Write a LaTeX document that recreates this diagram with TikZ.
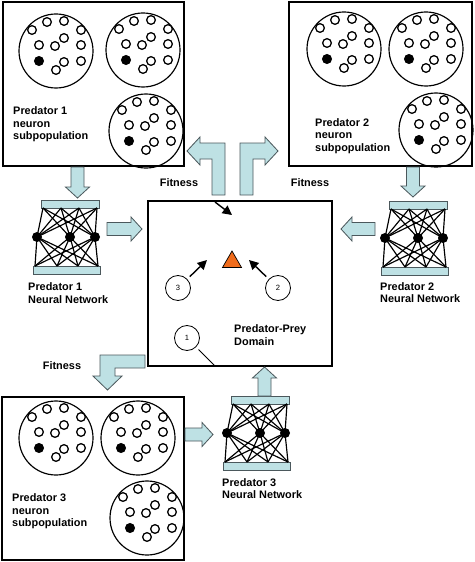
\documentclass[tikz,border=0pt]{standalone}
\usepackage{fontspec}
\setmainfont{Liberation Sans}
\usepackage{tikz}
\usetikzlibrary{shapes.geometric, arrows.meta, positioning, fit, calc}
\usepackage{xcolor}
\definecolor{fatblue}{RGB}{190,225,228}
\definecolor{fatedge}{RGB}{75,88,92}
\definecolor{preyorange}{RGB}{240,108,28}

\begin{document}
\begin{tikzpicture}[
    x=0.03cm, y=-0.03cm,
    frame/.style={rectangle, draw, line width=1.2pt, inner sep=0pt},
    pool/.style={circle, draw, line width=1pt, minimum size=2.22cm, inner sep=0pt},
    cell/.style={circle, draw, fill=white, line width=1.1pt, minimum size=0.26cm, inner sep=0pt},
    neuron/.style={circle, fill=black, minimum size=0.3cm, inner sep=0pt},
    bar/.style={draw=fatedge, fill=fatblue, line width=0.7pt},
    fatline/.style={draw=fatedge, fill=fatblue, line width=0.7pt, line join=miter},
    agent/.style={circle, draw, line width=0.7pt, minimum size=0.75cm, inner sep=0pt, font=\fontsize{6.5}{7}\selectfont},
    prey/.style={regular polygon, regular polygon sides=3, draw, fill=preyorange, line width=0.6pt, minimum size=0.66cm, inner sep=0pt},
    hunt/.style={-{Triangle[length=8pt, width=8pt]}, line width=1.2pt, shorten <=3pt},
    txt/.style={font=\bfseries\fontsize{9.3}{10.8}\selectfont, align=left, anchor=west, inner sep=0pt},
    word/.style={font=\bfseries\fontsize{9.3}{10.8}\selectfont, inner sep=0pt},
    pics/pool/.style={code={
        \node[pool] (-ring) at (0,0) {};
        \foreach \dx/\dy in {-24/-21, -9/-29, 8/-30, 25/-21, -17/-6, -1/-5, 8/-13, 25/-6, 8/11, 0/19, 25/10}
            \node[cell] at (\dx,\dy) {};
        \node[cell, fill=black] (-best) at (-17,10) {};
    }},
    pics/net/.style={code={
        \draw[bar] (-29,-37) rectangle (29,-29);
        \draw[bar] (-37,29) rectangle (30,37);
        \foreach \nx in {-33, 0, 25} {
            \foreach \tx in {-27, -9, 9, 27}
                \draw[line width=1pt] (\nx,0) -- (\tx,-29);
            \foreach \bx in {-35, -13, 8, 28}
                \draw[line width=1pt] (\nx,0) -- (\bx,29);
        }
        \foreach \nid/\nx in {a/-33, b/0, c/25}
            \node[neuron] (-\nid) at (\nx,0) {};
    }},
    pics/fat/.style={code={
        \draw[fatline] (0,0) -- (12,-11) -- (6.5,-11) -- (6.5,-#1) -- (-6.5,-#1) -- (-6.5,-11) -- (-12,-11) -- cycle;
    }}
]
    \useasboundingbox (0,0) rectangle (474,562);

    % subpopulation boxes
    \node (pop1) [frame, fit={(3,2) (184,166)}] {};
    \node (pop2) [frame, fit={(289,2) (472,166)}] {};
    \node (pop3) [frame, fit={(2,397) (184,560)}] {};
    \node (domain) [frame, fit={(148,201) (332,366)}] {};

    \pic (p1a) at (56,51) {pool};
    \pic (p1b) at (143,50) {pool};
    \pic (p1c) at (146,131) {pool};
    \pic (p2a) at (344,49) {pool};
    \pic (p2b) at (426,49) {pool};
    \pic (p2c) at (436,130) {pool};
    \pic (p3a) at (56,438) {pool};
    \pic (p3b) at (138,438) {pool};
    \pic (p3c) at (147,518) {pool};

    \node (t1) [txt] at (13,124.5) {Predator 1\\neuron\\subpopulation};
    \node (t2) [txt] at (315,136) {Predator 2\\neuron\\subpopulation};
    \node (t3) [txt] at (12,511.5) {Predator 3\\neuron\\subpopulation};

    % neural networks
    \pic (nn1) at (70,237) {net};
    \pic (nn2) at (418,238) {net};
    \pic (nn3) at (260,433) {net};

    \node (n1) [txt] at (28,293) {Predator 1\\Neural Network};
    \node (n2) [txt] at (380,292.5) {Predator 2\\Neural Network};
    \node (n3) [txt] at (222,488.5) {Predator 3\\Neural Network};

    % block arrows
    \pic at (77.5,198) {fat=31};
    \pic at (413,197) {fat=30};
    \pic[rotate=90] at (142,229) {fat=35};
    \pic[rotate=-90] at (341,229) {fat=34};
    \pic[rotate=180] at (264.5,367) {fat=29};
    \pic[rotate=90] at (213,434.5) {fat=28};

    % fitness arrows
    \draw[fatline] (212,195) -- (225,195) -- (225,143) -- (200,143) -- (200,137) -- (187,151)
        -- (200,165) -- (200,159) -- (212,159) -- cycle;
    \draw[fatline] (253,195) -- (240,195) -- (240,143) -- (265,143) -- (265,137) -- (278,151)
        -- (265,165) -- (265,159) -- (253,159) -- cycle;
    \draw[fatline] (145,355) -- (145,368) -- (115,368) -- (115,376) -- (122,376) -- (107.5,390)
        -- (93,376) -- (100,376) -- (100,355) -- cycle;

    \node (f1) [word] at (179,183) {Fitness};
    \node (f2) [word] at (310,183) {Fitness};
    \node (f3) [word] at (62,366) {Fitness};

    % domain contents
    \node (prey) [prey] at (232,262) {};
    \node (a3) [agent] at (178,288) {3};
    \node (a2) [agent] at (278,288) {2};
    \node (a1) [agent] at (187,338) {1};
    \coordinate (aim3) at (207,260);
    \coordinate (aim2) at (249,260);
    \coordinate (drop) at (215,202);
    \coordinate (aim0) at (232,215);
    \coordinate (ground) at (215,366);

    \draw[hunt] (a3) -- (aim3);
    \draw[hunt] (a2) -- (aim2);
    \draw[hunt, shorten <=0pt] (drop) -- (aim0);
    \draw[line width=0.9pt, shorten <=3pt] (a1) -- (ground);

    \node (dom) [txt] at (234,335) {Predator-Prey\\Domain};
\end{tikzpicture}
\end{document}
